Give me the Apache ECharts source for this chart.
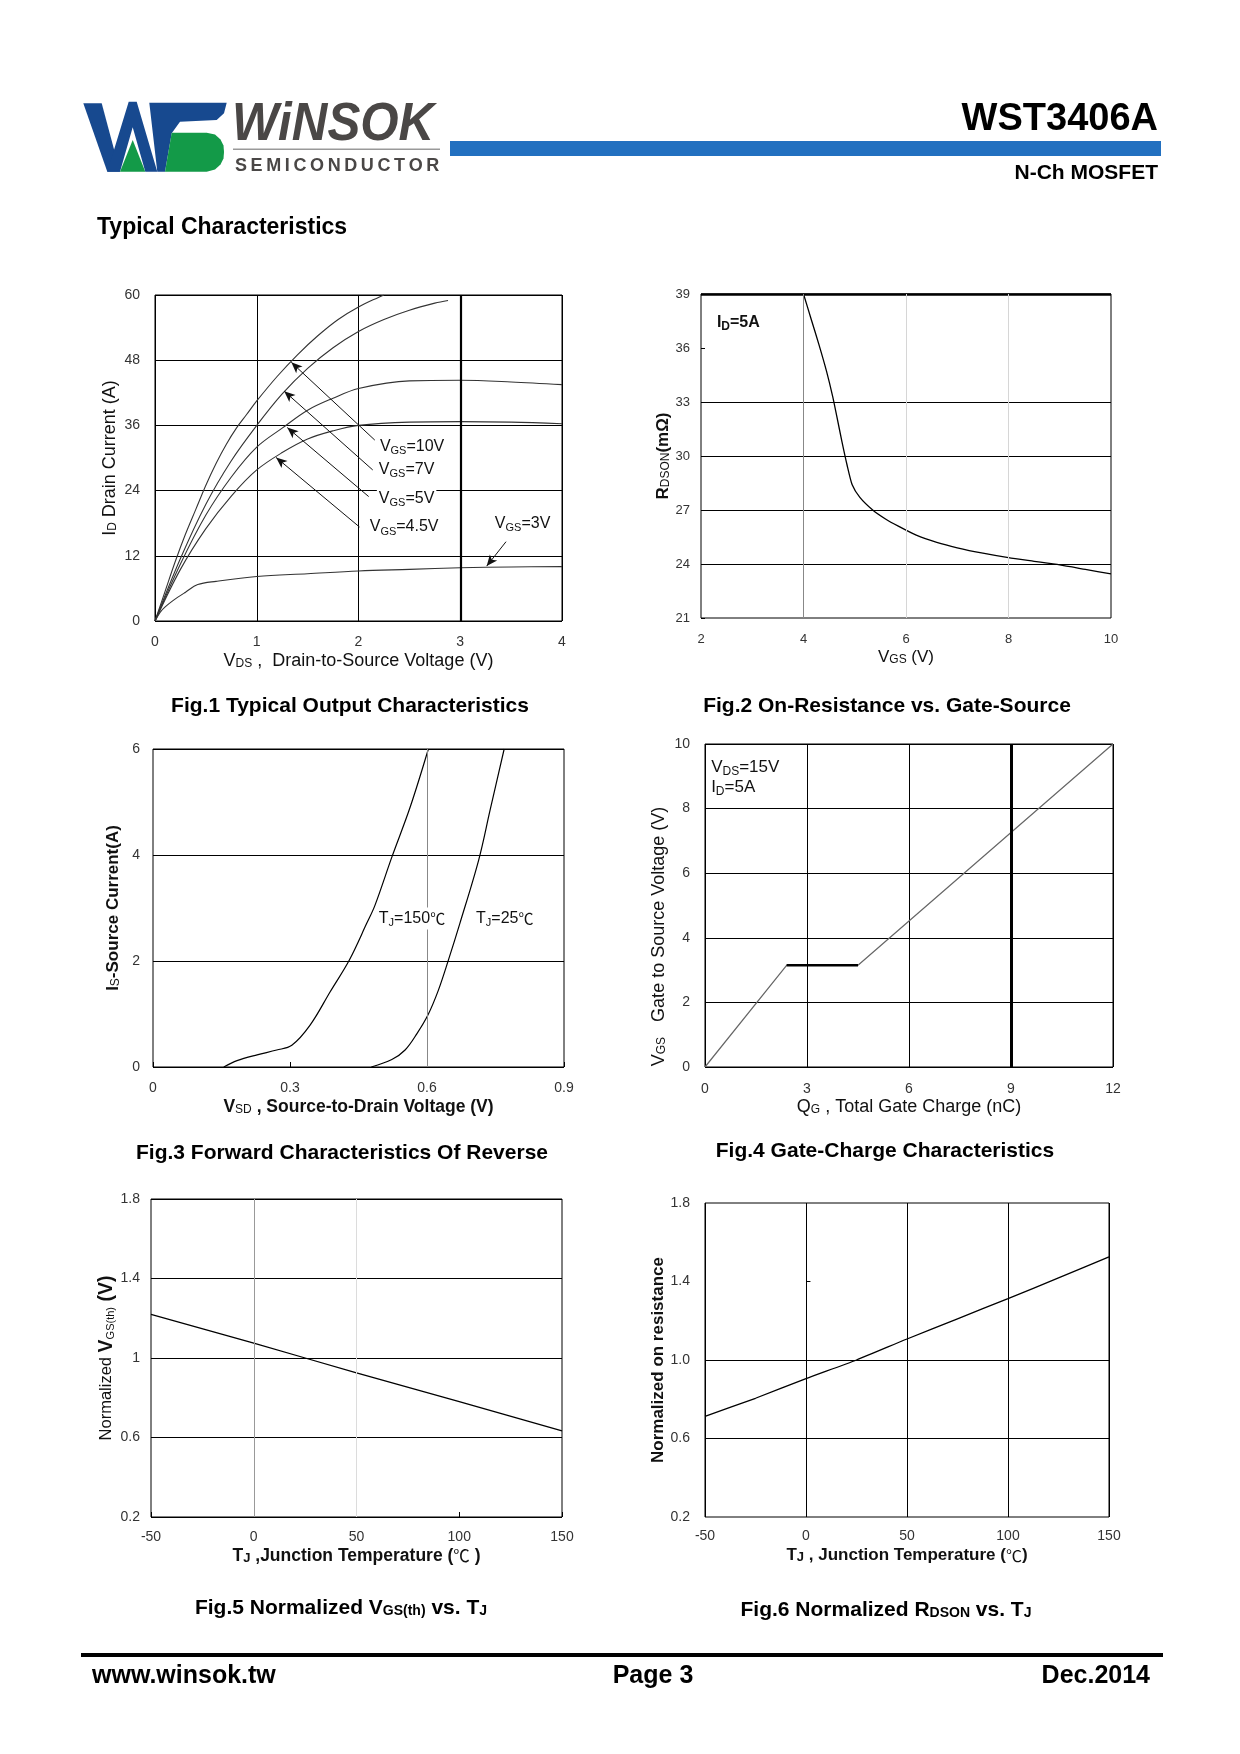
<!DOCTYPE html>
<html><head><meta charset="utf-8">
<script src="https://cdn.jsdelivr.net/npm/echarts@6/dist/echarts.min.js"></script>
<style>html,body{margin:0;padding:0;background:#fff}#main{width:1240px;height:1754px}</style>
</head><body><div id="main"></div>
<script>
// ---------- DATA ----------
// Fig.1 Typical output characteristics (VDS in V, ID in A)
const vds10 = [0,0.1,0.2,0.3,0.4,0.5,0.6,0.7,0.8,0.9,1.0,1.2,1.4,1.6,1.8,2.0,2.2,2.25];
const id10  = [0,5.5,11,16,20.5,25,29,32.5,35.5,38,40.5,45,49,52.5,55.5,57.8,59.6,60];
const vds7  = [0,0.25,0.5,0.75,1.0,1.25,1.5,1.75,2.0,2.25,2.5,2.75,2.88];
const id7   = [0,11.5,21.5,29.5,36,41.8,46.5,50.3,53.3,55.5,57.2,58.5,59];
const vds5  = [0,0.25,0.5,0.75,1.0,1.25,1.5,1.75,2.0,2.5,3.0,3.5,4.0];
const id5   = [0,10.5,19.5,26.5,32,35.5,38.8,41,42.8,44.2,44.3,44,43.5];
const vds45 = [0,0.25,0.5,0.75,1.0,1.25,1.5,1.75,2.0,2.5,3.0,3.5,4.0];
const id45  = [0,9.5,17,23,27.8,31,33.5,35,36,36.6,36.7,36.6,36.3];
const vds3  = [0,0.05,0.1,0.18,0.3,0.42,0.6,1.0,1.5,2.0,2.5,3.0,3.5,4.0];
const id3   = [0,1.6,2.6,3.8,5.3,6.7,7.3,8.2,8.7,9.2,9.5,9.8,9.95,10];
const fig1Labels  = ['{m|V}{s|GS}{m|=10V}','{m|V}{s|GS}{m|=7V}','{m|V}{s|GS}{m|=5V}','{m|V}{s|GS}{m|=4.5V}','{m|V}{s|GS}{m|=3V}'];
const fig1LabelX  = [2.19,2.18,2.18,2.09,3.32];
const fig1LabelY  = [32.1,27.8,22.5,17.3,17.9];
const fig1ArrowFromX = [2.16,2.14,2.10,2.01,3.45];
const fig1ArrowFromY = [33.3,27.8,22.9,17.3,14.6];
const fig1ArrowToX   = [1.34,1.27,1.30,1.19,3.26];
const fig1ArrowToY   = [47.6,42.3,35.6,30.1,10.1];

// Fig.2 On-resistance vs gate-source voltage
const vgs2  = [4.0,4.15,4.3,4.45,4.57,4.65,4.75,4.85,4.95,5.1,5.35,5.6,5.85,6.2,6.6,7.0,7.5,8.0,8.5,9.0,9.5,10];
const rds2  = [39,37.6,36.2,34.7,33.3,32.2,30.8,29.5,28.4,27.7,27.0,26.5,26.1,25.6,25.2,24.9,24.6,24.35,24.15,23.95,23.7,23.45];

// Fig.3 Forward characteristics of reverse diode
const vsd150 = [0.155,0.184,0.228,0.271,0.304,0.344,0.388,0.430,0.468,0.486,0.523,0.563,0.603];
const is150  = [0,0.12,0.23,0.32,0.41,0.79,1.42,2.02,2.71,3.05,3.96,4.9,6];
const vsd25  = [0.478,0.523,0.552,0.578,0.602,0.625,0.647,0.672,0.713,0.738,0.769];
const is25   = [0,0.14,0.32,0.63,0.98,1.45,2.02,2.71,3.9,4.84,6];

// Fig.4 Gate charge
const qg4  = [0,2.4,4.5,12];
const vgs4 = [0,3.15,3.15,10];

// Fig.5 Normalized VGS(th) vs TJ
const tj5  = [-50,0,25,50,100,150];
const vth5 = [1.22,1.075,1.0,0.925,0.78,0.633];

// Fig.6 Normalized RDSON vs TJ
const tj6 = [-50,-25,0,25,50,75,100,125,150];
const rn6 = [0.713,0.805,0.905,1.0,1.107,1.21,1.313,1.418,1.525];

// ---------- HELPERS ----------
const FF = "'Liberation Sans', Arial, Helvetica, sans-serif";
const CJK = "'Noto Sans CJK SC', 'DejaVu Sans', sans-serif";
const pair = (xs, ys) => xs.map((x, i) => [x, ys[i]]);
function rich(sz) {
  const sub = Math.round(sz * 0.68);
  return {
    m:  {fontSize: sz, fontFamily: FF, color: '#111', fill: '#111'},
    b:  {fontSize: sz, fontFamily: FF, fontWeight: 'bold', color: '#111', fill: '#111'},
    b2: {fontSize: sz + 3, fontFamily: FF, fontWeight: 'bold', color: '#111', fill: '#111'},
    n:  {fontSize: sz, fontFamily: FF, color: '#111', fill: '#111'},
    s:  {fontSize: sub, fontFamily: FF, color: '#111', fill: '#111', verticalAlign: 'bottom'},
    bs: {fontSize: sub + 1, fontFamily: FF, fontWeight: 'bold', color: '#111', fill: '#111', verticalAlign: 'bottom'},
    c:  {fontSize: sz - 1, fontFamily: CJK, color: '#111', fill: '#111'}
  };
}
const lab = (margin, size) => ({color: '#333', fontSize: size || 14, fontFamily: FF, margin});
const blackSplit = {show: true, lineStyle: {color: '#000', width: 1}};
const noSplit = {show: false};
function axis(gi, min, max, interval, split, name, gap, labMargin, sz, extra) {
  return Object.assign({
    gridIndex: gi, type: 'value', min, max, interval,
    axisLine: {show: false}, axisTick: {show: false},
    splitLine: split, axisLabel: lab(labMargin),
    name, nameLocation: 'middle', nameGap: gap,
    nameTextStyle: {rich: rich(sz)}
  }, extra || {});
}
function labelPoint(x, y, text, sz) {
  return {
    coord: [x, y], symbol: 'circle', symbolSize: 0.1, itemStyle: {color: 'rgba(0,0,0,0)'},
    label: {show: true, position: 'right', distance: 0, formatter: () => text,
      backgroundColor: '#fff', padding: [1, 2], rich: rich(sz), lineHeight: sz + 4}
  };
}
function ml(data) {
  return {silent: true, symbol: 'none', animation: false, label: {show: false}, data};
}
const lineS = (xi, data, color, width, extra) => Object.assign({
  type: 'line', xAxisIndex: xi, yAxisIndex: xi, data, showSymbol: false, symbol: 'none',
  lineStyle: {color, width}, itemStyle: {color}, animation: false, z: 3
}, extra || {});

// ---------- SERIES ----------
const arrows = fig1ArrowFromX.map((x, i) => [
  {coord: [x, fig1ArrowFromY[i]], symbol: 'none'},
  {coord: [fig1ArrowToX[i], fig1ArrowToY[i]], symbol: 'arrow', symbolSize: [7, 11]}
]);
const SM = 0.35;
const series = [
  lineS(0, pair(vds10, id10), '#333', 1.1, {smooth: SM,
    markLine: Object.assign(ml([{xAxis: 3, lineStyle: {color: '#000', width: 2.2, type: 'solid'}}].concat(arrows)),
      {lineStyle: {color: '#111', width: 1, type: 'solid'}}),
    markPoint: {animation: false, data: fig1Labels.map((t, i) => labelPoint(fig1LabelX[i], fig1LabelY[i], t, 16))}}),
  lineS(0, pair(vds7, id7), '#333', 1.1, {smooth: SM}),
  lineS(0, pair(vds5, id5), '#333', 1.1, {smooth: SM}),
  lineS(0, pair(vds45, id45), '#333', 1.1, {smooth: SM}),
  lineS(0, pair(vds3, id3), '#333', 1.1, {smooth: SM}),

  lineS(1, pair(vgs2, rds2), '#000', 1.3, {smooth: 0.2,
    markLine: ml([
      {yAxis: 24, lineStyle: {color: '#000', width: 1, type: 'solid'}},
      {yAxis: 27, lineStyle: {color: '#000', width: 1, type: 'solid'}},
      {yAxis: 30, lineStyle: {color: '#000', width: 1, type: 'solid'}},
      {yAxis: 33, lineStyle: {color: '#000', width: 1, type: 'solid'}},
      {yAxis: 39, lineStyle: {color: '#000', width: 2.5, type: 'solid'}},
      {xAxis: 4, lineStyle: {color: '#888', width: 1, type: 'solid'}},
      {xAxis: 6, lineStyle: {color: '#d6d6d6', width: 1, type: 'solid'}},
      {xAxis: 8, lineStyle: {color: '#d6d6d6', width: 1, type: 'solid'}}
    ]),
    markPoint: {animation: false, data: [labelPoint(2.27, 37.4, '{b|I}{bs|D}{b|=5A}', 16)]}}),

  lineS(2, pair(vsd150, is150), '#000', 1.2, {smooth: SM,
    markLine: ml([{xAxis: 0.6, lineStyle: {color: '#888', width: 1, type: 'solid'}}]),
    markPoint: {animation: false, data: [
      labelPoint(0.49, 2.8, '{m|T}{s|J}{m|=150}{c|℃}', 16),
      labelPoint(0.703, 2.8, '{m|T}{s|J}{m|=25}{c|℃}', 16)]}}),
  lineS(2, pair(vsd25, is25), '#000', 1.2, {smooth: SM}),

  lineS(3, pair(qg4, vgs4), '#666', 1.2, {
    markLine: ml([{xAxis: 9, lineStyle: {color: '#000', width: 3, type: 'solid'}}]),
    markPoint: {animation: false, data: [
      labelPoint(0.12, 9.27, '{m|V}{s|DS}{m|=15V}', 17),
      labelPoint(0.12, 8.65, '{m|I}{s|D}{m|=5A}', 17)]}}),
  lineS(3, pair(qg4.slice(1, 3), vgs4.slice(1, 3)), '#000', 2.6),

  lineS(4, pair(tj5, vth5), '#000', 1.3, {
    markLine: ml([
      {xAxis: 0, lineStyle: {color: '#999', width: 1, type: 'solid'}},
      {xAxis: 50, lineStyle: {color: '#dcdcdc', width: 1, type: 'solid'}}])}),

  lineS(5, pair(tj6, rn6), '#000', 1.3, {smooth: 0.2,
    markLine: ml([
      {yAxis: 0.6, lineStyle: {color: '#000', width: 1, type: 'solid'}},
      {yAxis: 1.0, lineStyle: {color: '#000', width: 1, type: 'solid'}},
      [{coord: [0, 1.4], lineStyle: {color: '#000', width: 1, type: 'solid'}}, {coord: [2.2, 1.4]}]])})
];

// ---------- LAYOUT ----------
const grids = [
  {left: 155, top: 295, width: 407, height: 326},
  {left: 701, top: 294, width: 410, height: 324},
  {left: 153, top: 749, width: 411, height: 318},
  {left: 705, top: 744, width: 408, height: 323},
  {left: 151, top: 1199, width: 411, height: 318},
  {left: 705, top: 1203, width: 404, height: 314}
].map(g => Object.assign({show: true, borderColor: '#000', borderWidth: 1, backgroundColor: 'rgba(0,0,0,0)',
  containLabel: false, outerBoundsMode: 'none'}, g));

const tickIn = {show: true, inside: true, length: 5, lineStyle: {color: '#000', width: 1}};
const xAxes = [
  axis(0, 0, 4, 1, blackSplit, '{m|V}{s|DS}{m| ,  Drain-to-Source Voltage (V)}', 31, 14, 18),
  axis(1, 2, 10, 2, noSplit, '{m|V}{s|GS}{m| (V)}', 31, 15, 17, {axisLabel: lab(15, 13)}),
  axis(2, 0, 0.9, 0.3, noSplit, '{b|V}{s|SD}{b| , Source-to-Drain Voltage (V)}', 31, 14, 17.5, {axisTick: tickIn}),
  axis(3, 0, 12, 3, blackSplit, '{m|Q}{s|G}{m| , Total Gate Charge (nC)}', 31, 15, 18),
  axis(4, -50, 150, 50, noSplit, '{b|T}{bs|J}{b| ,Junction Temperature (}{c|℃}{b| )}', 30, 13, 17.5, {axisTick: tickIn}),
  axis(5, -50, 150, 50, blackSplit, '{b|T}{bs|J}{b| , Junction Temperature (}{c|℃}{b|)}', 30, 12, 17)
];
const yAxes = [
  axis(0, 0, 60, 12, blackSplit, '{m|I}{s|D}{m| Drain Current (A)}', 36, 15, 18),
  axis(1, 21, 39, 3, noSplit, '{b|R}{s|DSON}{b|(mΩ)}', 29, 11, 17,
    {axisLabel: lab(11, 13), axisTick: {show: true, inside: true, length: 4, lineStyle: {color: '#000'}}}),
  axis(2, 0, 6, 2, blackSplit, '{b|I}{s|S}{b|-Source Current(A)}', 31, 13, 17),
  axis(3, 0, 10, 2, blackSplit, '{m|V}{s|GS}{m|   Gate to Source Voltage (V)}', 37, 15, 18,
    {nameTextStyle: {rich: rich(18), padding: [0, 62, 0, 0]}}),
  axis(4, 0.2, 1.8, 0.4, blackSplit, '{n|Normalized }{b2|V}{s|GS(th)}{b2| (V)}', 27, 11, 16.5),
  axis(5, 0.2, 1.8, 0.4, noSplit, '{b|Normalized on resistance}', 37, 15, 17,
    {axisLabel: Object.assign(lab(15), {formatter: v => v.toFixed(1)})})
];

// ---------- PAGE GRAPHICS ----------
const T = (x, y, text, font, align, fill, extra) => Object.assign({
  type: 'text', x, y, silent: true,
  style: {text, font, fill: fill || '#000', align, textAlign: align, verticalAlign: 'middle', textVerticalAlign: 'middle'}
}, extra || {});
const titleRich = {
  b: {fontSize: 21, fontWeight: 'bold', fontFamily: FF, fill: '#000', color: '#000'},
  s: {fontSize: 14, fontWeight: 'bold', fontFamily: FF, fill: '#000', color: '#000', verticalAlign: 'bottom'}
};
const TR = (x, y, text) => ({type: 'text', x, y, silent: true,
  style: {text, rich: titleRich, font: `bold 21px ${FF}`, fill: '#000', align: 'center', textAlign: 'center',
    verticalAlign: 'middle', textVerticalAlign: 'middle'}});
const poly = (points, fill) => ({type: 'polygon', silent: true, shape: {points}, style: {fill}});
const BLUE = '#17498f', GREEN = '#139a48', LOGOGRAY = '#4a4746';
const graphic = [
  // logo
  poly([[83.3,103.3],[101.7,103.3],[120,171.7],[107.3,171.7]], BLUE),
  poly([[107.3,171.7],[128.7,101.7],[136.7,101.7],[157.3,171.7],[145.3,171.7],[132.7,127.3],[120,171.7]], BLUE),
  poly([[132.7,140],[145.3,171.7],[120,171.7]], GREEN),
  poly([[149.3,102.7],[226.7,102.7],[224,113.3],[216.7,120],[180,121.7],[171.7,133.3],[165,171.7],[157.3,171.7]], BLUE),
  poly([[171.7,132.7],[206.7,132.7],[215,134.5],[220.5,139.5],[223.5,145.5],[224,152],[223.5,158.5],[220.5,164.5],[215,169.5],[206.7,171.7],[165,171.7]], GREEN),
  T(232, 125, 'WiNSOK', `italic bold 53px ${FF}`, 'left', LOGOGRAY, {scaleX: 0.93}),
  {type: 'rect', silent: true, shape: {x: 233, y: 148.5, width: 207, height: 1.5}, style: {fill: '#999'}},
  T(235, 166, 'S\u2009E\u2009M\u2009I\u2009C\u2009O\u2009N\u2009D\u2009U\u2009C\u2009T\u2009O\u2009R', `bold 18px ${FF}`, 'left', LOGOGRAY),
  // header
  {type: 'rect', silent: true, shape: {x: 450, y: 141, width: 711, height: 15}, style: {fill: '#2270c0'}},
  T(1158, 120, 'WST3406A', `bold 38px ${FF}`, 'right'),
  T(1158, 173, 'N-Ch MOSFET', `bold 21px ${FF}`, 'right'),
  T(97, 228, 'Typical Characteristics', `bold 23px ${FF}`, 'left'),
  // figure titles
  TR(350, 706, '{b|Fig.1 Typical Output Characteristics}'),
  TR(887, 706, '{b|Fig.2 On-Resistance vs. Gate-Source}'),
  TR(342, 1153, '{b|Fig.3 Forward Characteristics Of Reverse}'),
  TR(885, 1151, '{b|Fig.4 Gate-Charge Characteristics}'),
  TR(341, 1608, '{b|Fig.5 Normalized V}{s|GS(th)}{b| vs. T}{s|J}'),
  TR(886, 1610, '{b|Fig.6 Normalized R}{s|DSON}{b| vs. T}{s|J}'),
  // footer
  {type: 'rect', silent: true, shape: {x: 81, y: 1653, width: 1082, height: 4}, style: {fill: '#000'}},
  T(92, 1676, 'www.winsok.tw', `bold 25px ${FF}`, 'left'),
  T(653, 1676, 'Page 3', `bold 25px ${FF}`, 'center'),
  T(1150, 1676, 'Dec.2014', `bold 25px ${FF}`, 'right')
];

const chart = echarts.init(document.getElementById('main'), null, {renderer: 'canvas'});
chart.setOption({
  backgroundColor: '#fff',
  animation: false,
  textStyle: {fontFamily: FF},
  grid: grids,
  xAxis: xAxes,
  yAxis: yAxes,
  series,
  graphic
});
</script>
</body></html>
